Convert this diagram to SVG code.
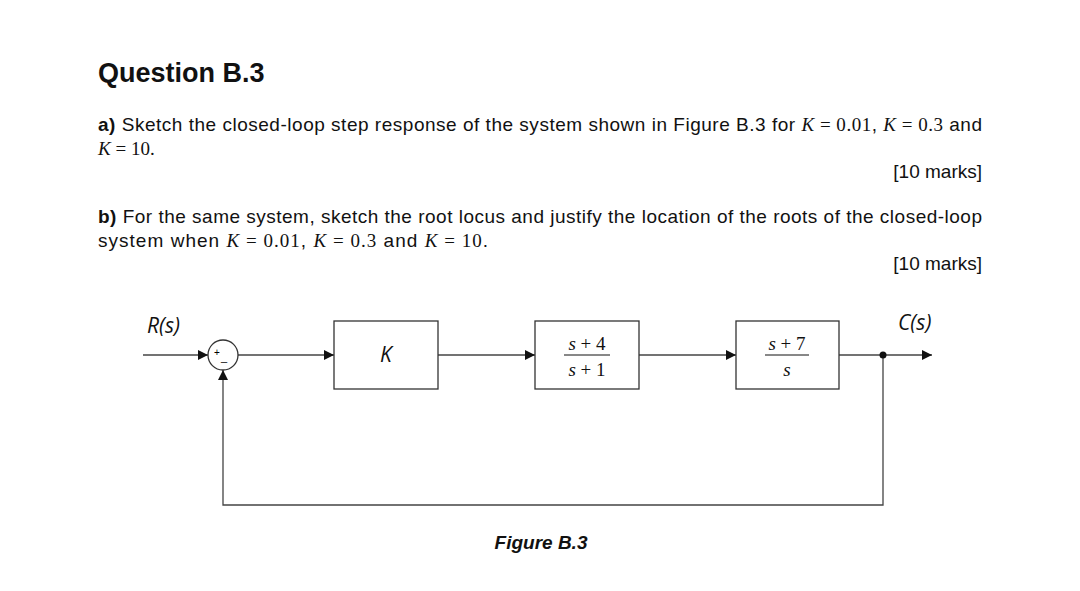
<svg xmlns="http://www.w3.org/2000/svg" width="1080" height="591" viewBox="0 0 1080 591">
<style>
.t{font-family:"Liberation Sans",Arial,sans-serif;font-size:19px;fill:#111}
.m{font-family:"Liberation Serif","Times New Roman",serif;font-size:19px;fill:#111}
.mi{font-style:italic}
.b{fill:#fff;stroke:#333;stroke-width:1.3}
.c{stroke:#444;stroke-width:1.3;fill:none}
.f{font-family:"Liberation Serif",serif;font-size:19px;fill:#111}
.lab{font-family:"Open Sans","DejaVu Sans",sans-serif;font-style:italic;font-size:21px;fill:#111}
</style>
<defs><marker id="a" viewBox="0 0 10 10" refX="10" refY="5" markerWidth="10" markerHeight="10" markerUnits="userSpaceOnUse" orient="auto"><path d="M0,0L10,5L0,10z" fill="#111"/></marker></defs>
<rect width="1080" height="591" fill="#fff"/>
<text x="98" y="82" class="t" style="font-size:27px;font-weight:bold">Question B.3</text>
<text x="98" y="131" class="t" textLength="884" lengthAdjust="spacing"><tspan font-weight="bold">a)</tspan> Sketch the closed-loop step response of the system shown in Figure B.3 for <tspan class="m"><tspan class="mi">K</tspan> = 0.01</tspan>, <tspan class="m"><tspan class="mi">K</tspan> = 0.3</tspan> and</text>
<text x="98" y="155" class="m"><tspan class="mi">K</tspan> = 10.</text>
<text x="982" y="178" class="t" text-anchor="end">[10 marks]</text>
<text x="98" y="223" class="t" textLength="884" lengthAdjust="spacing"><tspan font-weight="bold">b)</tspan> For the same system, sketch the root locus and justify the location of the roots of the closed-loop</text>
<text x="98" y="247" class="t" textLength="390" lengthAdjust="spacing">system when <tspan class="m"><tspan class="mi">K</tspan> = 0.01</tspan>, <tspan class="m"><tspan class="mi">K</tspan> = 0.3</tspan> and <tspan class="m"><tspan class="mi">K</tspan> = 10</tspan>.</text>
<text x="982" y="270" class="t" text-anchor="end">[10 marks]</text>
<g id="connectors">
<path class="c" d="M143,355H208" marker-end="url(#a)"/>
<path class="c" d="M238,355H334" marker-end="url(#a)"/>
<path class="c" d="M438,355H535" marker-end="url(#a)"/>
<path class="c" d="M639,355H736" marker-end="url(#a)"/>
<path class="c" d="M839,355H932" marker-end="url(#a)"/>
<path class="c" d="M883,355V505H223V370" marker-end="url(#a)"/>
<circle cx="883" cy="355" r="3.5" fill="#111"/>
</g>
<g id="sum"><circle cx="223" cy="355" r="15" class="b"/><text x="214" y="356" style="font-family:'Liberation Sans',sans-serif;font-size:10px">+</text><text x="221" y="361" style="font-family:'Liberation Sans',sans-serif;font-size:11px">_</text></g>
<g id="K"><rect x="334" y="321" width="104" height="68" class="b"/><text x="386" y="362" class="lab" text-anchor="middle">K</text></g>
<g id="G1"><rect x="535" y="321" width="104" height="68" class="b"/><text x="587" y="350" class="f" text-anchor="middle"><tspan font-style="italic">s</tspan> + 4</text><line x1="564" y1="355" x2="610" y2="355" stroke="#111"/><text x="587" y="376" class="f" text-anchor="middle"><tspan font-style="italic">s</tspan> + 1</text></g>
<g id="G2"><rect x="736" y="321" width="103" height="68" class="b"/><text x="787" y="350" class="f" text-anchor="middle"><tspan font-style="italic">s</tspan> + 7</text><line x1="765" y1="355" x2="809" y2="355" stroke="#111"/><text x="787" y="376" class="f" text-anchor="middle" font-style="italic">s</text></g>
<text x="147" y="333" class="lab">R(s)</text>
<text x="898" y="330" class="lab">C(s)</text>
<text x="541" y="549" class="t" text-anchor="middle" style="font-weight:bold;font-style:italic">Figure B.3</text>
</svg>
